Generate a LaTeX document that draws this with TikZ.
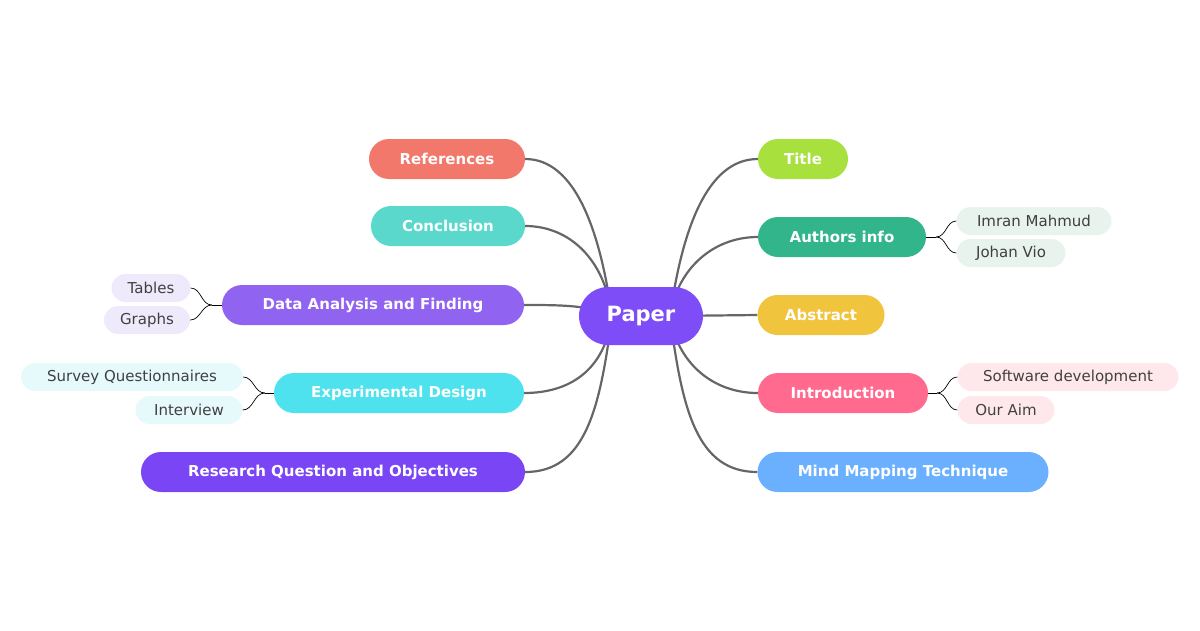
\documentclass[tikz,border=0pt]{standalone}
\usepackage{fontspec}
\setmainfont{DejaVu Sans}
\usetikzlibrary{positioning, calc, backgrounds}
\definecolor{colPaper}{HTML}{7E4DF8}
\definecolor{colRef}{HTML}{F1786A}
\definecolor{colCon}{HTML}{5AD8CC}
\definecolor{colData}{HTML}{9064F0}
\definecolor{colExp}{HTML}{4DE2EE}
\definecolor{colRes}{HTML}{7A46F5}
\definecolor{colTitle}{HTML}{A8E03E}
\definecolor{colAuth}{HTML}{33B58B}
\definecolor{colAbs}{HTML}{F0C43C}
\definecolor{colIntro}{HTML}{FF6A8E}
\definecolor{colMind}{HTML}{6AB0FF}
\definecolor{colLine}{HTML}{666666}
\definecolor{lfAuth}{HTML}{E8F3EE}
\definecolor{lfIntro}{HTML}{FFE8EC}
\definecolor{lfData}{HTML}{EEEAFB}
\definecolor{lfExp}{HTML}{E6F9FB}
\tikzset{
    branch/.style={fill=#1, text=white, rounded corners=20pt, minimum height=40pt,
        inner xsep=0pt, font=\fontsize{15}{18}\selectfont\bfseries},
    leaf/.style={fill=#1, text=black!75, rounded corners=14pt, minimum height=28pt,
        inner xsep=0pt, font=\fontsize{15}{18}\selectfont},
    link/.style={colLine, line width=2.2pt},
    sublink/.style={black, line width=0.7pt}
}
\begin{document}
\begin{tikzpicture}[x=1pt, y=-1pt]
    \useasboundingbox (0,0) rectangle (1200,630);
    % --- Pusat ---
    \node[fill=colPaper, text=white, rounded corners=29pt, minimum width=124pt, minimum height=58pt,
        font=\fontsize{21}{24}\selectfont\bfseries] (paper) at (641,316) {Paper};
    \coordinate (pl) at (612,316);
    \coordinate (pr) at (670,316);

    % --- Cabang kiri ---
    \node[branch=colRef, minimum width=156pt] (ref) at (447,159) {References};
    \node[branch=colCon, minimum width=154pt] (con) at (448,226) {Conclusion};
    \node[branch=colData, minimum width=302pt] (data) at (373,305) {Data Analysis and Finding};
    \node[branch=colExp, minimum width=250pt] (exp) at (399,393) {Experimental Design};
    \node[branch=colRes, minimum width=384pt] (res) at (333,472) {Research Question and Objectives};

    % --- Cabang kanan ---
    \node[branch=colTitle, minimum width=90pt] (title) at (803,159) {Title};
    \node[branch=colAuth, minimum width=168pt] (auth) at (842,237) {Authors info};
    \node[branch=colAbs, minimum width=127pt] (abs) at (821,315) {Abstract};
    \node[branch=colIntro, minimum width=170pt] (intro) at (843,393) {Introduction};
    \node[branch=colMind, minimum width=291pt] (mind) at (903,472) {Mind Mapping Technique};

    % --- Daun ---
    \node[leaf=lfAuth, minimum width=155pt] (imran) at (1034,221) {Imran Mahmud};
    \node[leaf=lfAuth, minimum width=109pt] (johan) at (1011,253) {Johan Vio};
    \node[leaf=lfIntro, minimum width=221pt] (soft) at (1068,377) {Software development};
    \node[leaf=lfIntro, minimum width=97pt] (aim) at (1006,410) {Our Aim};
    \node[leaf=lfData, minimum width=79pt] (tab) at (151,288) {Tables};
    \node[leaf=lfData, minimum width=86pt] (gra) at (147,320) {Graphs};
    \node[leaf=lfExp, minimum width=222pt] (sur) at (132,377) {Survey Questionnaires};
    \node[leaf=lfExp, minimum width=107pt] (int) at (189,410) {Interview};

    % --- Garis utama ---
    \begin{scope}[on background layer]
        \draw[link] (pl) .. controls (600,230) and (575,159) .. (ref.east);
        \draw[link] (pl) .. controls (605,260) and (570,226) .. (con.east);
        \draw[link] (pl) .. controls (590,305) and (560,305) .. (data.east);
        \draw[link] (pl) .. controls (605,370) and (570,393) .. (exp.east);
        \draw[link] (pl) .. controls (600,410) and (585,472) .. (res.east);
        \draw[link] (pr) .. controls (682,230) and (707,159) .. (title.west);
        \draw[link] (pr) .. controls (677,270) and (712,237) .. (auth.west);
        \draw[link] (pr) -- (abs.west);
        \draw[link] (pr) .. controls (677,362) and (712,393) .. (intro.west);
        \draw[link] (pr) .. controls (682,410) and (697,472) .. (mind.west);
    \end{scope}

    % --- Garis daun ---
    \draw[sublink] (auth.east) -- ++(10,0) coordinate (a1);
    \draw[sublink] (a1) to[out=0, in=180] (imran.west);
    \draw[sublink] (a1) to[out=0, in=180] (johan.west);
    \draw[sublink] (intro.east) -- ++(9,0) coordinate (i1);
    \draw[sublink] (i1) to[out=0, in=180] (soft.west);
    \draw[sublink] (i1) to[out=0, in=180] (aim.west);
    \draw[sublink] (data.west) -- ++(-10,0) coordinate (d1);
    \draw[sublink] (d1) to[out=180, in=0] (tab.east);
    \draw[sublink] (d1) to[out=180, in=0] (gra.east);
    \draw[sublink] (exp.west) -- ++(-9,0) coordinate (e1);
    \draw[sublink] (e1) to[out=180, in=0] (sur.east);
    \draw[sublink] (e1) to[out=180, in=0] (int.east);
\end{tikzpicture}
\end{document}
